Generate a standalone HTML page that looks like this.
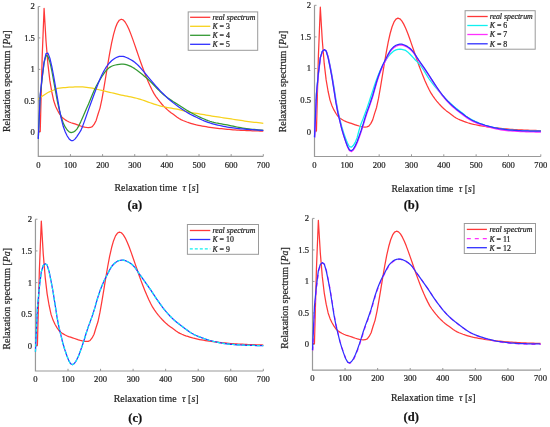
<!DOCTYPE html>
<html><head><meta charset="utf-8"><title>Relaxation spectrum</title>
<style>html,body{margin:0;padding:0;background:#fff;}svg{display:block;}text{stroke:#262626;stroke-width:0.22px;}</style></head>
<body><svg width="550" height="427" viewBox="0 0 550 427" font-family="'Liberation Serif', serif">
<rect width="550" height="427" fill="#fff"/>
<path d="M38.30 6.50 L38.30 156.30 L263.30 156.30" fill="none" stroke="#999999" stroke-width="1.2"/>
<path d="M38.30 132.20 h2" stroke="#999999" stroke-width="1"/>
<text x="34.90" y="135.10" text-anchor="end" font-size="8.6" fill="#262626">0</text>
<path d="M38.30 100.77 h2" stroke="#999999" stroke-width="1"/>
<text x="34.90" y="103.67" text-anchor="end" font-size="8.6" fill="#262626">0.5</text>
<path d="M38.30 69.35 h2" stroke="#999999" stroke-width="1"/>
<text x="34.90" y="72.25" text-anchor="end" font-size="8.6" fill="#262626">1</text>
<path d="M38.30 37.92 h2" stroke="#999999" stroke-width="1"/>
<text x="34.90" y="40.82" text-anchor="end" font-size="8.6" fill="#262626">1.5</text>
<path d="M38.30 6.50 h2" stroke="#999999" stroke-width="1"/>
<text x="34.90" y="9.40" text-anchor="end" font-size="8.6" fill="#262626">2</text>
<text x="38.30" y="167.50" text-anchor="middle" font-size="8.6" fill="#262626">0</text>
<path d="M70.44 156.30 v-2.2" stroke="#999999" stroke-width="1"/>
<text x="70.44" y="167.50" text-anchor="middle" font-size="8.6" fill="#262626">100</text>
<path d="M102.59 156.30 v-2.2" stroke="#999999" stroke-width="1"/>
<text x="102.59" y="167.50" text-anchor="middle" font-size="8.6" fill="#262626">200</text>
<path d="M134.73 156.30 v-2.2" stroke="#999999" stroke-width="1"/>
<text x="134.73" y="167.50" text-anchor="middle" font-size="8.6" fill="#262626">300</text>
<path d="M166.87 156.30 v-2.2" stroke="#999999" stroke-width="1"/>
<text x="166.87" y="167.50" text-anchor="middle" font-size="8.6" fill="#262626">400</text>
<path d="M199.01 156.30 v-2.2" stroke="#999999" stroke-width="1"/>
<text x="199.01" y="167.50" text-anchor="middle" font-size="8.6" fill="#262626">500</text>
<path d="M231.16 156.30 v-2.2" stroke="#999999" stroke-width="1"/>
<text x="231.16" y="167.50" text-anchor="middle" font-size="8.6" fill="#262626">600</text>
<path d="M263.30 156.30 v-2.2" stroke="#999999" stroke-width="1"/>
<text x="263.30" y="167.50" text-anchor="middle" font-size="8.6" fill="#262626">700</text>
<path d="M38.30 131.38 L40.23 131.38 L42.16 57.41 L44.09 8.39 L46.01 41.07 L47.94 64.32 L49.87 80.66 L51.80 91.98 L53.73 100.77 L55.66 106.43 L57.59 110.52 L59.51 113.86 L61.44 116.69 L63.37 118.52 L65.30 119.86 L67.23 121.01 L69.16 121.96 L71.09 122.77 L73.01 123.34 L74.94 123.96 L76.87 124.66 L78.80 125.35 L80.73 125.99 L82.66 126.54 L84.59 127.04 L86.51 127.41 L88.44 127.59 L90.37 127.45 L92.30 126.61 L94.23 124.16 L96.16 120.44 L98.09 113.97 L100.01 108.12 L101.94 99.08 L103.87 88.20 L105.80 76.50 L107.73 64.65 L109.66 53.34 L111.59 43.16 L113.51 34.55 L115.44 27.80 L117.37 23.03 L119.30 20.22 L121.23 19.25 L123.16 19.92 L125.09 22.00 L127.01 25.22 L128.94 29.33 L130.87 34.12 L132.80 39.35 L134.73 44.87 L136.66 50.51 L138.59 56.15 L140.51 61.69 L142.44 67.07 L144.37 72.21 L146.30 77.10 L148.23 81.69 L150.16 85.99 L152.09 89.98 L154.01 93.66 L155.94 96.56 L157.87 99.24 L159.80 101.72 L161.73 104.00 L163.66 106.11 L165.59 108.07 L167.51 109.89 L169.44 111.51 L171.37 112.95 L173.30 114.32 L175.23 115.76 L177.16 117.23 L179.09 118.56 L181.01 119.62 L182.94 120.49 L184.87 121.26 L186.80 121.99 L188.73 122.66 L190.66 123.28 L192.59 123.86 L194.51 124.40 L196.44 124.87 L198.37 125.29 L200.30 125.69 L202.23 126.05 L204.16 126.39 L206.09 126.71 L208.01 127.01 L209.94 127.29 L211.87 127.55 L213.80 127.80 L215.73 128.05 L217.66 128.28 L219.59 128.51 L221.51 128.73 L223.44 128.93 L225.37 129.12 L227.30 129.30 L229.23 129.48 L231.16 129.64 L233.09 129.79 L235.01 129.92 L236.94 130.04 L238.87 130.15 L240.80 130.26 L242.73 130.36 L244.66 130.45 L246.59 130.54 L248.51 130.62 L250.44 130.70 L252.37 130.78 L254.30 130.85 L256.23 130.92 L258.16 130.98 L260.09 131.04 L262.01 131.10 L263.30 131.13" fill="none" stroke="#ff3838" stroke-width="1.25" stroke-linejoin="round" stroke-linecap="butt"/>
<path d="M38.30 99.20 L40.23 97.56 L42.16 96.23 L44.09 94.92 L46.01 93.67 L47.94 92.54 L49.87 91.57 L51.80 90.77 L53.73 90.01 L55.66 89.17 L57.59 88.46 L59.51 88.04 L61.44 87.83 L63.37 87.70 L65.30 87.54 L67.23 87.36 L69.16 87.21 L71.09 87.13 L73.01 87.07 L74.94 86.99 L76.87 86.91 L78.80 86.84 L80.73 86.83 L82.66 86.90 L84.59 87.04 L86.51 87.26 L88.44 87.52 L90.37 87.84 L92.30 88.19 L94.23 88.59 L96.16 89.03 L98.09 89.50 L100.01 89.99 L101.94 90.47 L103.87 90.93 L105.80 91.38 L107.73 91.83 L109.66 92.29 L111.59 92.76 L113.51 93.23 L115.44 93.70 L117.37 94.16 L119.30 94.60 L121.23 95.02 L123.16 95.41 L125.09 95.79 L127.01 96.17 L128.94 96.54 L130.87 96.93 L132.80 97.34 L134.73 97.78 L136.66 98.26 L138.59 98.79 L140.51 99.37 L142.44 100.02 L144.37 100.70 L146.30 101.39 L148.23 102.08 L150.16 102.76 L152.09 103.43 L154.01 104.07 L155.94 104.69 L157.87 105.27 L159.80 105.81 L161.73 106.31 L163.66 106.76 L165.59 107.16 L167.51 107.52 L169.44 107.85 L171.37 108.18 L173.30 108.51 L175.23 108.85 L177.16 109.22 L179.09 109.63 L181.01 110.09 L182.94 110.60 L184.87 111.12 L186.80 111.62 L188.73 112.07 L190.66 112.46 L192.59 112.81 L194.51 113.12 L196.44 113.42 L198.37 113.72 L200.30 114.03 L202.23 114.34 L204.16 114.67 L206.09 115.01 L208.01 115.35 L209.94 115.69 L211.87 116.03 L213.80 116.35 L215.73 116.65 L217.66 116.94 L219.59 117.22 L221.51 117.50 L223.44 117.77 L225.37 118.05 L227.30 118.35 L229.23 118.64 L231.16 118.94 L233.09 119.25 L235.01 119.55 L236.94 119.86 L238.87 120.16 L240.80 120.45 L242.73 120.74 L244.66 121.02 L246.59 121.29 L248.51 121.55 L250.44 121.79 L252.37 122.03 L254.30 122.26 L256.23 122.49 L258.16 122.70 L260.09 122.92 L262.01 123.13 L263.30 123.28" fill="none" stroke="#f7d21c" stroke-width="1.25" stroke-linejoin="round" stroke-linecap="butt"/>
<path d="M38.30 138.48 L40.23 95.78 L42.16 78.31 L44.09 62.94 L46.01 55.37 L47.94 56.42 L49.87 61.96 L51.80 70.74 L53.73 81.45 L55.66 92.20 L57.59 102.26 L59.51 110.76 L61.44 117.81 L63.37 123.40 L65.30 127.22 L67.23 130.02 L69.16 131.92 L71.09 132.53 L73.01 132.21 L74.94 131.13 L76.87 129.06 L78.80 125.82 L80.73 121.86 L82.66 117.57 L84.59 113.09 L86.51 108.60 L88.44 104.14 L90.37 99.47 L92.30 94.71 L94.23 90.21 L96.16 86.25 L98.09 82.76 L100.01 79.56 L101.94 76.50 L103.87 73.57 L105.80 70.98 L107.73 68.90 L109.66 67.36 L111.59 66.27 L113.51 65.51 L115.44 64.99 L117.37 64.62 L119.30 64.33 L121.23 64.08 L123.16 64.13 L125.09 64.44 L127.01 64.91 L128.94 65.56 L130.87 66.42 L132.80 67.46 L134.73 68.65 L136.66 69.98 L138.59 71.42 L140.51 72.94 L142.44 74.52 L144.37 76.15 L146.30 77.80 L148.23 79.51 L150.16 81.34 L152.09 83.27 L154.01 85.26 L155.94 87.27 L157.87 89.25 L159.80 91.17 L161.73 92.98 L163.66 94.66 L165.59 96.23 L167.51 97.69 L169.44 99.07 L171.37 100.39 L173.30 101.65 L175.23 102.88 L177.16 104.09 L179.09 105.30 L181.01 106.52 L182.94 107.75 L184.87 108.98 L186.80 110.18 L188.73 111.34 L190.66 112.45 L192.59 113.52 L194.51 114.54 L196.44 115.51 L198.37 116.45 L200.30 117.36 L202.23 118.22 L204.16 119.04 L206.09 119.83 L208.01 120.56 L209.94 121.24 L211.87 121.84 L213.80 122.37 L215.73 122.82 L217.66 123.22 L219.59 123.58 L221.51 123.92 L223.44 124.26 L225.37 124.61 L227.30 124.98 L229.23 125.38 L231.16 125.78 L233.09 126.19 L235.01 126.60 L236.94 126.99 L238.87 127.37 L240.80 127.71 L242.73 128.03 L244.66 128.33 L246.59 128.60 L248.51 128.85 L250.44 129.08 L252.37 129.29 L254.30 129.49 L256.23 129.68 L258.16 129.86 L260.09 130.03 L262.01 130.20 L263.30 130.31" fill="none" stroke="#339933" stroke-width="1.25" stroke-linejoin="round" stroke-linecap="butt"/>
<path d="M38.30 138.99 L40.23 94.66 L42.16 77.10 L44.09 61.84 L46.01 53.70 L47.94 53.12 L49.87 58.15 L51.80 66.38 L53.73 76.50 L55.66 87.56 L57.59 98.79 L59.51 109.76 L61.44 119.43 L63.37 126.84 L65.30 132.00 L67.23 135.98 L69.16 138.91 L71.09 140.57 L73.01 140.63 L74.94 139.13 L76.87 136.55 L78.80 133.72 L80.73 130.69 L82.66 126.15 L84.59 120.86 L86.51 115.37 L88.44 109.86 L90.37 104.47 L92.30 99.18 L94.23 93.97 L96.16 88.81 L98.09 83.76 L100.01 78.98 L101.94 74.69 L103.87 70.95 L105.80 67.73 L107.73 65.00 L109.66 62.70 L111.59 60.80 L113.51 59.22 L115.44 57.96 L117.37 57.04 L119.30 56.46 L121.23 56.26 L123.16 56.43 L125.09 56.96 L127.01 57.76 L128.94 58.68 L130.87 59.70 L132.80 60.87 L134.73 62.25 L136.66 63.90 L138.59 65.79 L140.51 67.88 L142.44 70.10 L144.37 72.41 L146.30 74.73 L148.23 77.06 L150.16 79.36 L152.09 81.64 L154.01 83.89 L155.94 86.09 L157.87 88.23 L159.80 90.32 L161.73 92.33 L163.66 94.28 L165.59 96.15 L167.51 97.95 L169.44 99.67 L171.37 101.31 L173.30 102.88 L175.23 104.37 L177.16 105.80 L179.09 107.18 L181.01 108.53 L182.94 109.84 L184.87 111.09 L186.80 112.28 L188.73 113.40 L190.66 114.43 L192.59 115.41 L194.51 116.35 L196.44 117.28 L198.37 118.21 L200.30 119.13 L202.23 120.03 L204.16 120.86 L206.09 121.63 L208.01 122.32 L209.94 122.96 L211.87 123.54 L213.80 124.08 L215.73 124.59 L217.66 125.07 L219.59 125.51 L221.51 125.93 L223.44 126.32 L225.37 126.68 L227.30 127.01 L229.23 127.32 L231.16 127.61 L233.09 127.87 L235.01 128.12 L236.94 128.35 L238.87 128.56 L240.80 128.76 L242.73 128.94 L244.66 129.11 L246.59 129.28 L248.51 129.43 L250.44 129.58 L252.37 129.72 L254.30 129.86 L256.23 129.99 L258.16 130.11 L260.09 130.24 L262.01 130.36 L263.30 130.44" fill="none" stroke="#3030ff" stroke-width="1.25" stroke-linejoin="round" stroke-linecap="butt"/>
<text transform="translate(9.60,81.25) rotate(-90)" text-anchor="middle" font-size="9.9" fill="#262626">Relaxation spectrum [<tspan font-style="italic">Pa</tspan>]</text>
<text x="114.50" y="190.70" font-size="10.15" fill="#262626" textLength="84.40" lengthAdjust="spacingAndGlyphs">Relaxation time <tspan dx="3" font-style="italic">τ</tspan> [<tspan font-style="italic">s</tspan>]</text>
<text x="134.90" y="208.80" text-anchor="middle" font-size="12.5" font-weight="bold" fill="#111">(a)</text>
<rect x="188.20" y="11.90" width="69.50" height="38.40" fill="#fff" stroke="#9a9a9a" stroke-width="1"/>
<path d="M190.10 17.30 H210.30" stroke="#ff3838" stroke-width="1.3"/>
<text x="212.40" y="20.20" font-size="7.85" font-style="italic" fill="#222">real spectrum</text>
<path d="M190.10 26.30 H210.30" stroke="#f7d21c" stroke-width="1.3"/>
<text x="212.40" y="29.20" font-size="7.85" fill="#222"><tspan font-style="italic">K</tspan> = 3</text>
<path d="M190.10 35.30 H210.30" stroke="#339933" stroke-width="1.3"/>
<text x="212.40" y="38.20" font-size="7.85" fill="#222"><tspan font-style="italic">K</tspan> = 4</text>
<path d="M190.10 44.30 H210.30" stroke="#3030ff" stroke-width="1.3"/>
<text x="212.40" y="47.20" font-size="7.85" fill="#222"><tspan font-style="italic">K</tspan> = 5</text>
<path d="M314.50 5.30 L314.50 156.50 L540.80 156.50" fill="none" stroke="#999999" stroke-width="1.2"/>
<path d="M314.50 131.70 h2" stroke="#999999" stroke-width="1"/>
<text x="311.10" y="134.60" text-anchor="end" font-size="8.6" fill="#262626">0</text>
<path d="M314.50 100.10 h2" stroke="#999999" stroke-width="1"/>
<text x="311.10" y="103.00" text-anchor="end" font-size="8.6" fill="#262626">0.5</text>
<path d="M314.50 68.50 h2" stroke="#999999" stroke-width="1"/>
<text x="311.10" y="71.40" text-anchor="end" font-size="8.6" fill="#262626">1</text>
<path d="M314.50 36.90 h2" stroke="#999999" stroke-width="1"/>
<text x="311.10" y="39.80" text-anchor="end" font-size="8.6" fill="#262626">1.5</text>
<path d="M314.50 5.30 h2" stroke="#999999" stroke-width="1"/>
<text x="311.10" y="8.20" text-anchor="end" font-size="8.6" fill="#262626">2</text>
<text x="314.50" y="167.70" text-anchor="middle" font-size="8.6" fill="#262626">0</text>
<path d="M346.83 156.50 v-2.2" stroke="#999999" stroke-width="1"/>
<text x="346.83" y="167.70" text-anchor="middle" font-size="8.6" fill="#262626">100</text>
<path d="M379.16 156.50 v-2.2" stroke="#999999" stroke-width="1"/>
<text x="379.16" y="167.70" text-anchor="middle" font-size="8.6" fill="#262626">200</text>
<path d="M411.49 156.50 v-2.2" stroke="#999999" stroke-width="1"/>
<text x="411.49" y="167.70" text-anchor="middle" font-size="8.6" fill="#262626">300</text>
<path d="M443.81 156.50 v-2.2" stroke="#999999" stroke-width="1"/>
<text x="443.81" y="167.70" text-anchor="middle" font-size="8.6" fill="#262626">400</text>
<path d="M476.14 156.50 v-2.2" stroke="#999999" stroke-width="1"/>
<text x="476.14" y="167.70" text-anchor="middle" font-size="8.6" fill="#262626">500</text>
<path d="M508.47 156.50 v-2.2" stroke="#999999" stroke-width="1"/>
<text x="508.47" y="167.70" text-anchor="middle" font-size="8.6" fill="#262626">600</text>
<path d="M540.80 156.50 v-2.2" stroke="#999999" stroke-width="1"/>
<text x="540.80" y="167.70" text-anchor="middle" font-size="8.6" fill="#262626">700</text>
<path d="M314.50 130.88 L316.44 130.88 L318.38 56.49 L320.32 7.20 L322.26 40.06 L324.20 63.44 L326.14 79.88 L328.08 91.25 L330.02 100.10 L331.96 105.79 L333.90 109.90 L335.84 113.26 L337.78 116.10 L339.72 117.95 L341.66 119.29 L343.60 120.45 L345.54 121.40 L347.48 122.22 L349.41 122.79 L351.35 123.42 L353.29 124.12 L355.23 124.81 L357.17 125.46 L359.11 126.01 L361.05 126.51 L362.99 126.88 L364.93 127.07 L366.87 126.93 L368.81 126.08 L370.75 123.61 L372.69 119.87 L374.63 113.37 L376.57 107.49 L378.51 98.40 L380.45 87.46 L382.39 75.69 L384.33 63.77 L386.27 52.40 L388.21 42.16 L390.15 33.51 L392.09 26.72 L394.03 21.92 L395.97 19.10 L397.91 18.12 L399.85 18.80 L401.79 20.88 L403.73 24.12 L405.67 28.26 L407.61 33.07 L409.55 38.34 L411.49 43.88 L413.43 49.55 L415.37 55.22 L417.30 60.80 L419.24 66.20 L421.18 71.38 L423.12 76.29 L425.06 80.91 L427.00 85.23 L428.94 89.24 L430.88 92.95 L432.82 95.87 L434.76 98.56 L436.70 101.05 L438.64 103.34 L440.58 105.47 L442.52 107.44 L444.46 109.26 L446.40 110.89 L448.34 112.34 L450.28 113.72 L452.22 115.17 L454.16 116.64 L456.10 117.99 L458.04 119.05 L459.98 119.93 L461.92 120.70 L463.86 121.43 L465.80 122.10 L467.74 122.73 L469.68 123.31 L471.62 123.86 L473.56 124.33 L475.50 124.75 L477.44 125.15 L479.38 125.52 L481.32 125.86 L483.26 126.18 L485.19 126.48 L487.13 126.76 L489.07 127.02 L491.01 127.28 L492.95 127.52 L494.89 127.76 L496.83 127.99 L498.77 128.21 L500.71 128.41 L502.65 128.60 L504.59 128.79 L506.53 128.96 L508.47 129.12 L510.41 129.27 L512.35 129.40 L514.29 129.53 L516.23 129.64 L518.17 129.75 L520.11 129.85 L522.05 129.94 L523.99 130.03 L525.93 130.11 L527.87 130.19 L529.81 130.27 L531.75 130.34 L533.69 130.41 L535.63 130.48 L537.57 130.54 L539.51 130.59 L540.80 130.63" fill="none" stroke="#ff3838" stroke-width="1.25" stroke-linejoin="round" stroke-linecap="butt"/>
<path d="M314.50 137.39 L316.44 93.78 L318.38 73.12 L320.32 57.62 L322.26 51.46 L324.20 49.59 L326.14 50.96 L328.08 56.51 L330.02 65.22 L331.96 75.08 L333.90 86.64 L335.84 99.20 L337.78 110.27 L339.72 118.65 L341.66 126.13 L343.60 132.59 L345.54 138.21 L347.48 143.08 L349.41 146.72 L351.35 147.22 L353.29 145.60 L355.23 142.37 L357.17 137.40 L359.11 130.02 L361.05 123.76 L362.99 119.06 L364.93 113.84 L366.87 108.36 L368.81 102.67 L370.75 96.79 L372.69 90.82 L374.63 84.89 L376.57 79.39 L378.51 74.46 L380.45 69.99 L382.39 65.97 L384.33 62.38 L386.27 59.32 L388.21 56.61 L390.15 54.30 L392.09 52.43 L394.03 50.85 L395.97 49.94 L397.91 49.36 L399.85 49.24 L401.79 49.44 L403.73 49.84 L405.67 50.43 L407.61 51.89 L409.55 53.79 L411.49 55.72 L413.43 57.89 L415.37 59.98 L417.30 61.83 L419.24 63.77 L421.18 66.26 L423.12 69.28 L425.06 72.38 L427.00 75.63 L428.94 78.74 L430.88 81.45 L432.82 83.95 L434.76 86.35 L436.70 88.64 L438.64 90.87 L440.58 93.18 L442.52 95.49 L444.46 97.62 L446.40 99.59 L448.34 101.46 L450.28 103.26 L452.22 105.01 L454.16 106.70 L456.10 108.32 L458.04 109.83 L459.98 111.27 L461.92 112.74 L463.86 114.32 L465.80 115.90 L467.74 117.28 L469.68 118.53 L471.62 119.65 L473.56 120.64 L475.50 121.56 L477.44 122.41 L479.38 123.21 L481.32 123.95 L483.26 124.64 L485.19 125.28 L487.13 125.86 L489.07 126.40 L491.01 126.89 L492.95 127.36 L494.89 127.81 L496.83 128.22 L498.77 128.59 L500.71 128.90 L502.65 129.19 L504.59 129.45 L506.53 129.69 L508.47 129.90 L510.41 130.08 L512.35 130.23 L514.29 130.37 L516.23 130.49 L518.17 130.60 L520.11 130.70 L522.05 130.79 L523.99 130.86 L525.93 130.92 L527.87 130.97 L529.81 131.02 L531.75 131.07 L533.69 131.11 L535.63 131.15 L537.57 131.18 L539.51 131.19 L540.80 131.19" fill="none" stroke="#10f0f0" stroke-width="1.25" stroke-linejoin="round" stroke-linecap="butt"/>
<path d="M314.65 137.39 L316.59 93.78 L318.53 73.12 L320.47 57.61 L322.41 51.46 L324.35 49.58 L326.29 51.00 L328.23 57.51 L330.17 67.00 L332.11 77.38 L334.05 89.60 L335.99 102.23 L337.93 112.57 L339.87 120.77 L341.81 128.95 L343.75 135.69 L345.69 141.65 L347.63 147.06 L349.56 150.68 L351.50 151.60 L353.44 149.93 L355.38 146.70 L357.32 142.40 L359.26 137.16 L361.20 131.53 L363.14 125.46 L365.08 118.98 L367.02 112.98 L368.96 107.68 L370.90 102.14 L372.84 96.23 L374.78 89.29 L376.72 82.55 L378.66 76.51 L380.60 71.27 L382.54 66.65 L384.48 62.67 L386.42 58.90 L388.36 54.94 L390.30 51.52 L392.24 49.19 L394.18 47.35 L396.12 46.09 L398.06 45.37 L400.00 44.92 L401.94 44.98 L403.88 45.56 L405.82 46.46 L407.76 47.48 L409.70 48.87 L411.64 50.66 L413.58 52.80 L415.52 55.66 L417.45 58.75 L419.39 61.59 L421.33 64.37 L423.27 67.17 L425.21 70.01 L427.15 72.88 L429.09 75.82 L431.03 78.87 L432.97 81.96 L434.91 84.95 L436.85 87.84 L438.79 90.63 L440.73 93.33 L442.67 95.92 L444.61 98.30 L446.55 100.54 L448.49 102.64 L450.43 104.59 L452.37 106.41 L454.31 108.10 L456.25 109.71 L458.19 111.25 L460.13 112.72 L462.07 114.16 L464.01 115.64 L465.95 117.08 L467.89 118.40 L469.83 119.65 L471.77 120.79 L473.71 121.76 L475.65 122.62 L477.59 123.40 L479.53 124.13 L481.47 124.81 L483.41 125.46 L485.34 126.09 L487.28 126.68 L489.22 127.22 L491.16 127.71 L493.10 128.18 L495.04 128.63 L496.98 129.04 L498.92 129.41 L500.86 129.73 L502.80 130.01 L504.74 130.27 L506.68 130.51 L508.62 130.72 L510.56 130.90 L512.50 131.05 L514.44 131.19 L516.38 131.31 L518.32 131.43 L520.26 131.52 L522.20 131.61 L524.14 131.68 L526.08 131.74 L528.02 131.79 L529.96 131.85 L531.90 131.89 L533.84 131.94 L535.78 131.97 L537.72 132.00 L539.66 132.01 L540.95 132.02" fill="none" stroke="#ff30ff" stroke-width="1.35" stroke-linejoin="round" stroke-linecap="butt"/>
<path d="M314.50 137.39 L316.44 93.78 L318.38 73.12 L320.32 57.61 L322.26 51.46 L324.20 49.58 L326.14 51.00 L328.08 57.51 L330.02 67.00 L331.96 77.38 L333.90 89.59 L335.84 102.20 L337.78 112.49 L339.72 120.57 L341.66 128.58 L343.60 135.11 L345.54 140.95 L347.48 146.28 L349.41 149.88 L351.35 150.78 L353.29 149.11 L355.23 145.88 L357.17 141.58 L359.11 136.33 L361.05 130.71 L362.99 124.64 L364.93 118.16 L366.87 112.16 L368.81 106.86 L370.75 101.32 L372.69 95.41 L374.63 88.47 L376.57 81.73 L378.51 75.69 L380.45 70.44 L382.39 65.83 L384.33 61.85 L386.27 58.08 L388.21 54.12 L390.15 50.70 L392.09 48.37 L394.03 46.52 L395.97 45.27 L397.91 44.55 L399.85 44.09 L401.79 44.16 L403.73 44.74 L405.67 45.64 L407.61 46.66 L409.55 48.05 L411.49 49.83 L413.43 51.98 L415.37 54.84 L417.30 57.93 L419.24 60.77 L421.18 63.55 L423.12 66.34 L425.06 69.19 L427.00 72.06 L428.94 75.00 L430.88 78.05 L432.82 81.14 L434.76 84.13 L436.70 87.02 L438.64 89.81 L440.58 92.51 L442.52 95.09 L444.46 97.48 L446.40 99.72 L448.34 101.81 L450.28 103.77 L452.22 105.58 L454.16 107.27 L456.10 108.89 L458.04 110.42 L459.98 111.89 L461.92 113.34 L463.86 114.81 L465.80 116.26 L467.74 117.58 L469.68 118.82 L471.62 119.97 L473.56 120.94 L475.50 121.80 L477.44 122.58 L479.38 123.31 L481.32 123.99 L483.26 124.64 L485.19 125.27 L487.13 125.85 L489.07 126.39 L491.01 126.89 L492.95 127.36 L494.89 127.81 L496.83 128.22 L498.77 128.59 L500.71 128.90 L502.65 129.19 L504.59 129.45 L506.53 129.69 L508.47 129.90 L510.41 130.08 L512.35 130.23 L514.29 130.37 L516.23 130.49 L518.17 130.60 L520.11 130.70 L522.05 130.79 L523.99 130.86 L525.93 130.92 L527.87 130.97 L529.81 131.02 L531.75 131.07 L533.69 131.11 L535.63 131.15 L537.57 131.18 L539.51 131.19 L540.80 131.19" fill="none" stroke="#3030ff" stroke-width="1.25" stroke-linejoin="round" stroke-linecap="butt"/>
<text transform="translate(286.20,81.50) rotate(-90)" text-anchor="middle" font-size="9.9" fill="#262626">Relaxation spectrum [<tspan font-style="italic">Pa</tspan>]</text>
<text x="391.40" y="191.70" font-size="10.15" fill="#262626" textLength="83.60" lengthAdjust="spacingAndGlyphs">Relaxation time <tspan dx="3" font-style="italic">τ</tspan> [<tspan font-style="italic">s</tspan>]</text>
<text x="411.30" y="208.90" text-anchor="middle" font-size="12.5" font-weight="bold" fill="#111">(b)</text>
<rect x="465.10" y="10.70" width="70.10" height="38.50" fill="#fff" stroke="#9a9a9a" stroke-width="1"/>
<path d="M467.30 16.50 H487.70" stroke="#ff3838" stroke-width="1.3"/>
<text x="489.70" y="19.40" font-size="7.85" font-style="italic" fill="#222">real spectrum</text>
<path d="M467.30 25.50 H487.70" stroke="#10f0f0" stroke-width="1.3"/>
<text x="489.70" y="28.40" font-size="7.85" fill="#222"><tspan font-style="italic">K</tspan> = 6</text>
<path d="M467.30 34.50 H487.70" stroke="#ff30ff" stroke-width="1.3"/>
<text x="489.70" y="37.40" font-size="7.85" fill="#222"><tspan font-style="italic">K</tspan> = 7</text>
<path d="M467.30 43.80 H487.70" stroke="#3030ff" stroke-width="1.3"/>
<text x="489.70" y="46.70" font-size="7.85" fill="#222"><tspan font-style="italic">K</tspan> = 8</text>
<path d="M35.45 219.20 L35.45 371.00 L263.30 371.00" fill="none" stroke="#999999" stroke-width="1.2"/>
<path d="M35.45 346.10 h2" stroke="#999999" stroke-width="1"/>
<text x="32.05" y="349.00" text-anchor="end" font-size="8.6" fill="#262626">0</text>
<path d="M35.45 314.38 h2" stroke="#999999" stroke-width="1"/>
<text x="32.05" y="317.27" text-anchor="end" font-size="8.6" fill="#262626">0.5</text>
<path d="M35.45 282.65 h2" stroke="#999999" stroke-width="1"/>
<text x="32.05" y="285.55" text-anchor="end" font-size="8.6" fill="#262626">1</text>
<path d="M35.45 250.93 h2" stroke="#999999" stroke-width="1"/>
<text x="32.05" y="253.83" text-anchor="end" font-size="8.6" fill="#262626">1.5</text>
<path d="M35.45 219.20 h2" stroke="#999999" stroke-width="1"/>
<text x="32.05" y="222.10" text-anchor="end" font-size="8.6" fill="#262626">2</text>
<text x="35.45" y="382.20" text-anchor="middle" font-size="8.6" fill="#262626">0</text>
<path d="M68.00 371.00 v-2.2" stroke="#999999" stroke-width="1"/>
<text x="68.00" y="382.20" text-anchor="middle" font-size="8.6" fill="#262626">100</text>
<path d="M100.55 371.00 v-2.2" stroke="#999999" stroke-width="1"/>
<text x="100.55" y="382.20" text-anchor="middle" font-size="8.6" fill="#262626">200</text>
<path d="M133.10 371.00 v-2.2" stroke="#999999" stroke-width="1"/>
<text x="133.10" y="382.20" text-anchor="middle" font-size="8.6" fill="#262626">300</text>
<path d="M165.65 371.00 v-2.2" stroke="#999999" stroke-width="1"/>
<text x="165.65" y="382.20" text-anchor="middle" font-size="8.6" fill="#262626">400</text>
<path d="M198.20 371.00 v-2.2" stroke="#999999" stroke-width="1"/>
<text x="198.20" y="382.20" text-anchor="middle" font-size="8.6" fill="#262626">500</text>
<path d="M230.75 371.00 v-2.2" stroke="#999999" stroke-width="1"/>
<text x="230.75" y="382.20" text-anchor="middle" font-size="8.6" fill="#262626">600</text>
<path d="M263.30 371.00 v-2.2" stroke="#999999" stroke-width="1"/>
<text x="263.30" y="382.20" text-anchor="middle" font-size="8.6" fill="#262626">700</text>
<path d="M35.45 345.28 L37.40 345.28 L39.36 270.59 L41.31 221.10 L43.26 254.10 L45.22 277.57 L47.17 294.07 L49.12 305.49 L51.07 314.38 L53.03 320.09 L54.98 324.21 L56.93 327.58 L58.89 330.44 L60.84 332.29 L62.79 333.64 L64.75 334.81 L66.70 335.76 L68.65 336.58 L70.60 337.15 L72.56 337.79 L74.51 338.49 L76.46 339.19 L78.42 339.83 L80.37 340.39 L82.32 340.89 L84.28 341.26 L86.23 341.45 L88.18 341.31 L90.13 340.46 L92.09 337.98 L94.04 334.23 L95.99 327.70 L97.95 321.79 L99.90 312.66 L101.85 301.68 L103.81 289.87 L105.76 277.91 L107.71 266.49 L109.66 256.21 L111.62 247.52 L113.57 240.70 L115.52 235.89 L117.48 233.05 L119.43 232.07 L121.38 232.75 L123.34 234.84 L125.29 238.09 L127.24 242.25 L129.19 247.08 L131.15 252.37 L133.10 257.93 L135.05 263.63 L137.01 269.32 L138.96 274.92 L140.91 280.34 L142.87 285.54 L144.82 290.47 L146.77 295.11 L148.72 299.45 L150.68 303.47 L152.63 307.19 L154.58 310.12 L156.54 312.83 L158.49 315.33 L160.44 317.63 L162.40 319.77 L164.35 321.74 L166.30 323.58 L168.25 325.21 L170.21 326.66 L172.16 328.05 L174.11 329.50 L176.07 330.98 L178.02 332.33 L179.97 333.40 L181.93 334.28 L183.88 335.06 L185.83 335.79 L187.78 336.46 L189.74 337.09 L191.69 337.68 L193.64 338.23 L195.60 338.70 L197.55 339.13 L199.50 339.52 L201.45 339.89 L203.41 340.23 L205.36 340.56 L207.31 340.86 L209.27 341.14 L211.22 341.40 L213.17 341.66 L215.13 341.91 L217.08 342.15 L219.03 342.38 L220.99 342.59 L222.94 342.80 L224.89 342.99 L226.84 343.18 L228.80 343.35 L230.75 343.51 L232.70 343.66 L234.66 343.80 L236.61 343.92 L238.56 344.03 L240.52 344.14 L242.47 344.24 L244.42 344.33 L246.37 344.42 L248.33 344.51 L250.28 344.59 L252.23 344.66 L254.19 344.74 L256.14 344.81 L258.09 344.87 L260.05 344.93 L262.00 344.99 L263.30 345.02" fill="none" stroke="#ff3838" stroke-width="1.25" stroke-linejoin="round" stroke-linecap="butt"/>
<path d="M35.45 351.81 L37.40 308.03 L39.36 287.29 L41.31 271.72 L43.26 265.55 L45.22 263.66 L47.17 265.09 L49.12 271.63 L51.07 281.16 L53.03 291.58 L54.98 303.84 L56.93 316.51 L58.89 326.85 L60.84 334.97 L62.79 343.01 L64.75 349.53 L66.70 355.27 L68.65 360.40 L70.60 363.79 L72.56 364.68 L74.51 363.23 L76.46 360.30 L78.42 356.21 L80.37 351.08 L82.32 345.51 L84.28 339.48 L86.23 333.05 L88.18 327.11 L90.13 321.88 L92.09 316.41 L94.04 310.57 L95.99 303.70 L97.95 297.04 L99.90 291.08 L101.85 285.91 L103.81 281.38 L105.76 277.48 L107.71 273.78 L109.66 269.89 L111.62 266.53 L113.57 264.25 L115.52 262.44 L117.48 261.21 L119.43 260.50 L121.38 260.05 L123.34 260.10 L125.29 260.66 L127.24 261.52 L129.19 262.49 L131.15 263.82 L133.10 265.53 L135.05 267.60 L137.01 270.38 L138.96 273.38 L140.91 276.13 L142.87 278.82 L144.82 281.52 L146.77 284.28 L148.72 287.07 L150.68 289.92 L152.63 292.90 L154.58 295.92 L156.54 298.84 L158.49 301.67 L160.44 304.41 L162.40 307.06 L164.35 309.61 L166.30 311.96 L168.25 314.17 L170.21 316.24 L172.16 318.18 L174.11 319.98 L176.07 321.66 L178.02 323.26 L179.97 324.79 L181.93 326.25 L183.88 327.70 L185.83 329.17 L187.78 330.61 L189.74 331.93 L191.69 333.18 L193.64 334.33 L195.60 335.30 L197.55 336.16 L199.50 336.95 L201.45 337.68 L203.41 338.36 L205.36 339.01 L207.31 339.64 L209.27 340.23 L211.22 340.77 L213.17 341.27 L215.13 341.74 L217.08 342.19 L219.03 342.61 L220.99 342.98 L222.94 343.29 L224.89 343.58 L226.84 343.84 L228.80 344.08 L230.75 344.29 L232.70 344.47 L234.66 344.62 L236.61 344.76 L238.56 344.89 L240.52 345.00 L242.47 345.10 L244.42 345.18 L246.37 345.26 L248.33 345.31 L250.28 345.37 L252.23 345.42 L254.19 345.47 L256.14 345.51 L258.09 345.55 L260.05 345.57 L262.00 345.59 L263.30 345.59" fill="none" stroke="#3030ff" stroke-width="1.25" stroke-linejoin="round" stroke-linecap="butt"/>
<path d="M35.45 351.81 L37.40 308.03 L39.36 287.29 L41.31 271.72 L43.26 265.55 L45.22 263.66 L47.17 265.09 L49.12 271.63 L51.07 281.16 L53.03 291.58 L54.98 303.84 L56.93 316.51 L58.89 326.85 L60.84 334.97 L62.79 343.01 L64.75 349.53 L66.70 355.27 L68.65 360.40 L70.60 363.79 L72.56 364.68 L74.51 363.23 L76.46 360.30 L78.42 356.21 L80.37 351.08 L82.32 345.51 L84.28 339.48 L86.23 333.05 L88.18 327.11 L90.13 321.88 L92.09 316.41 L94.04 310.57 L95.99 303.70 L97.95 297.04 L99.90 291.08 L101.85 285.91 L103.81 281.38 L105.76 277.48 L107.71 273.78 L109.66 269.89 L111.62 266.53 L113.57 264.25 L115.52 262.44 L117.48 261.21 L119.43 260.50 L121.38 260.05 L123.34 260.10 L125.29 260.66 L127.24 261.52 L129.19 262.49 L131.15 263.82 L133.10 265.53 L135.05 267.60 L137.01 270.38 L138.96 273.38 L140.91 276.13 L142.87 278.82 L144.82 281.52 L146.77 284.28 L148.72 287.07 L150.68 289.92 L152.63 292.90 L154.58 295.92 L156.54 298.84 L158.49 301.67 L160.44 304.41 L162.40 307.06 L164.35 309.61 L166.30 311.96 L168.25 314.17 L170.21 316.24 L172.16 318.18 L174.11 319.98 L176.07 321.66 L178.02 323.26 L179.97 324.79 L181.93 326.25 L183.88 327.70 L185.83 329.17 L187.78 330.61 L189.74 331.93 L191.69 333.18 L193.64 334.33 L195.60 335.30 L197.55 336.16 L199.50 336.95 L201.45 337.68 L203.41 338.36 L205.36 339.01 L207.31 339.64 L209.27 340.23 L211.22 340.77 L213.17 341.27 L215.13 341.74 L217.08 342.19 L219.03 342.61 L220.99 342.98 L222.94 343.29 L224.89 343.58 L226.84 343.84 L228.80 344.08 L230.75 344.29 L232.70 344.47 L234.66 344.62 L236.61 344.76 L238.56 344.89 L240.52 345.00 L242.47 345.10 L244.42 345.18 L246.37 345.26 L248.33 345.31 L250.28 345.37 L252.23 345.42 L254.19 345.47 L256.14 345.51 L258.09 345.55 L260.05 345.57 L262.00 345.59 L263.30 345.59" fill="none" stroke="#10f0f0" stroke-width="1.25" stroke-linejoin="round" stroke-linecap="butt" stroke-dasharray="3 2"/>
<text transform="translate(10.10,298.75) rotate(-90)" text-anchor="middle" font-size="9.9" fill="#262626">Relaxation spectrum [<tspan font-style="italic">Pa</tspan>]</text>
<text x="113.70" y="402.30" font-size="10.15" fill="#262626" textLength="84.90" lengthAdjust="spacingAndGlyphs">Relaxation time <tspan dx="3" font-style="italic">τ</tspan> [<tspan font-style="italic">s</tspan>]</text>
<text x="135.30" y="421.80" text-anchor="middle" font-size="12.5" font-weight="bold" fill="#111">(c)</text>
<rect x="187.40" y="224.50" width="71.10" height="29.80" fill="#fff" stroke="#9a9a9a" stroke-width="1"/>
<path d="M189.80 230.50 H210.30" stroke="#ff3838" stroke-width="1.3"/>
<text x="212.40" y="233.40" font-size="7.85" font-style="italic" fill="#222">real spectrum</text>
<path d="M189.80 239.50 H210.30" stroke="#3030ff" stroke-width="1.3"/>
<text x="212.40" y="242.40" font-size="7.85" fill="#222"><tspan font-style="italic">K</tspan> = 10</text>
<path d="M189.80 248.90 H210.30" stroke="#10f0f0" stroke-width="1.3" stroke-dasharray="3 2"/>
<text x="212.40" y="251.80" font-size="7.85" fill="#222"><tspan font-style="italic">K</tspan> = 9</text>
<path d="M312.50 218.40 L312.50 370.20 L540.50 370.20" fill="none" stroke="#999999" stroke-width="1.2"/>
<path d="M312.50 344.50 h2" stroke="#999999" stroke-width="1"/>
<text x="309.10" y="347.40" text-anchor="end" font-size="8.6" fill="#262626">0</text>
<path d="M312.50 312.98 h2" stroke="#999999" stroke-width="1"/>
<text x="309.10" y="315.88" text-anchor="end" font-size="8.6" fill="#262626">0.5</text>
<path d="M312.50 281.45 h2" stroke="#999999" stroke-width="1"/>
<text x="309.10" y="284.35" text-anchor="end" font-size="8.6" fill="#262626">1</text>
<path d="M312.50 249.93 h2" stroke="#999999" stroke-width="1"/>
<text x="309.10" y="252.83" text-anchor="end" font-size="8.6" fill="#262626">1.5</text>
<path d="M312.50 218.40 h2" stroke="#999999" stroke-width="1"/>
<text x="309.10" y="221.30" text-anchor="end" font-size="8.6" fill="#262626">2</text>
<text x="312.50" y="381.40" text-anchor="middle" font-size="8.6" fill="#262626">0</text>
<path d="M345.07 370.20 v-2.2" stroke="#999999" stroke-width="1"/>
<text x="345.07" y="381.40" text-anchor="middle" font-size="8.6" fill="#262626">100</text>
<path d="M377.64 370.20 v-2.2" stroke="#999999" stroke-width="1"/>
<text x="377.64" y="381.40" text-anchor="middle" font-size="8.6" fill="#262626">200</text>
<path d="M410.21 370.20 v-2.2" stroke="#999999" stroke-width="1"/>
<text x="410.21" y="381.40" text-anchor="middle" font-size="8.6" fill="#262626">300</text>
<path d="M442.79 370.20 v-2.2" stroke="#999999" stroke-width="1"/>
<text x="442.79" y="381.40" text-anchor="middle" font-size="8.6" fill="#262626">400</text>
<path d="M475.36 370.20 v-2.2" stroke="#999999" stroke-width="1"/>
<text x="475.36" y="381.40" text-anchor="middle" font-size="8.6" fill="#262626">500</text>
<path d="M507.93 370.20 v-2.2" stroke="#999999" stroke-width="1"/>
<text x="507.93" y="381.40" text-anchor="middle" font-size="8.6" fill="#262626">600</text>
<path d="M540.50 370.20 v-2.2" stroke="#999999" stroke-width="1"/>
<text x="540.50" y="381.40" text-anchor="middle" font-size="8.6" fill="#262626">700</text>
<path d="M312.50 343.68 L314.45 343.68 L316.41 269.47 L318.36 220.29 L320.32 253.08 L322.27 276.41 L324.23 292.80 L326.18 304.15 L328.13 312.98 L330.09 318.65 L332.04 322.75 L334.00 326.10 L335.95 328.94 L337.91 330.78 L339.86 332.12 L341.81 333.28 L343.77 334.22 L345.72 335.04 L347.68 335.61 L349.63 336.24 L351.59 336.93 L353.54 337.63 L355.49 338.27 L357.45 338.83 L359.40 339.32 L361.36 339.69 L363.31 339.88 L365.27 339.74 L367.22 338.89 L369.17 336.43 L371.13 332.70 L373.08 326.22 L375.04 320.34 L376.99 311.27 L378.95 300.36 L380.90 288.62 L382.85 276.74 L384.81 265.39 L386.76 255.18 L388.72 246.54 L390.67 239.77 L392.63 234.98 L394.58 232.16 L396.53 231.19 L398.49 231.86 L400.44 233.94 L402.40 237.18 L404.35 241.31 L406.31 246.10 L408.26 251.36 L410.21 256.89 L412.17 262.55 L414.12 268.20 L416.08 273.77 L418.03 279.16 L419.99 284.32 L421.94 289.22 L423.89 293.83 L425.85 298.14 L427.80 302.14 L429.76 305.84 L431.71 308.75 L433.67 311.44 L435.62 313.92 L437.57 316.21 L439.53 318.33 L441.48 320.29 L443.44 322.12 L445.39 323.74 L447.35 325.18 L449.30 326.57 L451.25 328.01 L453.21 329.48 L455.16 330.82 L457.12 331.88 L459.07 332.75 L461.03 333.53 L462.98 334.26 L464.93 334.93 L466.89 335.55 L468.84 336.13 L470.80 336.68 L472.75 337.15 L474.71 337.57 L476.66 337.96 L478.61 338.33 L480.57 338.67 L482.52 338.99 L484.48 339.29 L486.43 339.57 L488.39 339.83 L490.34 340.09 L492.29 340.33 L494.25 340.57 L496.20 340.80 L498.16 341.02 L500.11 341.22 L502.07 341.41 L504.02 341.59 L505.97 341.77 L507.93 341.93 L509.88 342.08 L511.84 342.21 L513.79 342.33 L515.75 342.45 L517.70 342.55 L519.65 342.65 L521.61 342.75 L523.56 342.83 L525.52 342.92 L527.47 343.00 L529.43 343.07 L531.38 343.15 L533.33 343.21 L535.29 343.28 L537.24 343.34 L539.20 343.39 L540.50 343.43" fill="none" stroke="#ff3838" stroke-width="1.25" stroke-linejoin="round" stroke-linecap="butt"/>
<path d="M312.80 350.57 L314.75 307.07 L316.71 286.46 L318.66 270.99 L320.62 264.85 L322.57 262.98 L324.53 264.40 L326.48 270.90 L328.43 280.37 L330.39 290.72 L332.34 302.91 L334.30 315.49 L336.25 325.77 L338.21 333.84 L340.16 341.83 L342.11 348.31 L344.07 354.01 L346.02 359.10 L347.98 362.48 L349.93 363.36 L351.89 361.92 L353.84 359.01 L355.79 354.95 L357.75 349.84 L359.70 344.31 L361.66 338.33 L363.61 331.93 L365.57 326.03 L367.52 320.83 L369.47 315.40 L371.43 309.59 L373.38 302.77 L375.34 296.15 L377.29 290.23 L379.25 285.09 L381.20 280.59 L383.15 276.72 L385.11 273.04 L387.06 269.17 L389.02 265.83 L390.97 263.56 L392.93 261.77 L394.88 260.54 L396.83 259.84 L398.79 259.39 L400.74 259.44 L402.70 260.00 L404.65 260.85 L406.61 261.82 L408.56 263.14 L410.51 264.84 L412.47 266.90 L414.42 269.65 L416.38 272.64 L418.33 275.37 L420.29 278.04 L422.24 280.73 L424.19 283.47 L426.15 286.24 L428.10 289.07 L430.06 292.03 L432.01 295.03 L433.97 297.93 L435.92 300.75 L437.87 303.48 L439.83 306.11 L441.78 308.64 L443.74 310.98 L445.69 313.17 L447.65 315.23 L449.60 317.16 L451.55 318.94 L453.51 320.61 L455.46 322.20 L457.42 323.72 L459.37 325.18 L461.33 326.62 L463.28 328.08 L465.23 329.51 L467.19 330.82 L469.14 332.07 L471.10 333.20 L473.05 334.17 L475.01 335.02 L476.96 335.81 L478.91 336.53 L480.87 337.21 L482.82 337.86 L484.78 338.48 L486.73 339.07 L488.69 339.61 L490.64 340.10 L492.59 340.57 L494.55 341.01 L496.50 341.43 L498.46 341.80 L500.41 342.11 L502.37 342.39 L504.32 342.65 L506.27 342.89 L508.23 343.10 L510.18 343.28 L512.14 343.43 L514.09 343.57 L516.05 343.69 L518.00 343.81 L519.95 343.91 L521.91 343.99 L523.86 344.06 L525.82 344.12 L527.77 344.17 L529.73 344.23 L531.68 344.27 L533.63 344.32 L535.59 344.35 L537.54 344.38 L539.50 344.39 L540.80 344.40" fill="none" stroke="#ff30ff" stroke-width="1.25" stroke-linejoin="round" stroke-linecap="butt" stroke-dasharray="4 4"/>
<path d="M312.50 350.17 L314.45 306.67 L316.41 286.06 L318.36 270.59 L320.32 264.45 L322.27 262.58 L324.23 264.00 L326.18 270.50 L328.13 279.97 L330.09 290.32 L332.04 302.51 L334.00 315.09 L335.95 325.37 L337.91 333.44 L339.86 341.43 L341.81 347.91 L343.77 353.61 L345.72 358.70 L347.68 362.08 L349.63 362.96 L351.59 361.52 L353.54 358.61 L355.49 354.55 L357.45 349.44 L359.40 343.91 L361.36 337.93 L363.31 331.53 L365.27 325.63 L367.22 320.43 L369.17 315.00 L371.13 309.19 L373.08 302.37 L375.04 295.75 L376.99 289.83 L378.95 284.69 L380.90 280.19 L382.85 276.32 L384.81 272.64 L386.76 268.77 L388.72 265.43 L390.67 263.16 L392.63 261.37 L394.58 260.14 L396.53 259.44 L398.49 258.99 L400.44 259.04 L402.40 259.60 L404.35 260.45 L406.31 261.42 L408.26 262.74 L410.21 264.44 L412.17 266.50 L414.12 269.25 L416.08 272.24 L418.03 274.97 L419.99 277.64 L421.94 280.33 L423.89 283.07 L425.85 285.84 L427.80 288.67 L429.76 291.63 L431.71 294.63 L433.67 297.53 L435.62 300.35 L437.57 303.08 L439.53 305.71 L441.48 308.24 L443.44 310.58 L445.39 312.77 L447.35 314.83 L449.30 316.76 L451.25 318.54 L453.21 320.21 L455.16 321.80 L457.12 323.32 L459.07 324.78 L461.03 326.22 L462.98 327.68 L464.93 329.11 L466.89 330.42 L468.84 331.67 L470.80 332.80 L472.75 333.77 L474.71 334.62 L476.66 335.41 L478.61 336.13 L480.57 336.81 L482.52 337.46 L484.48 338.08 L486.43 338.67 L488.39 339.21 L490.34 339.70 L492.29 340.17 L494.25 340.61 L496.20 341.03 L498.16 341.40 L500.11 341.71 L502.07 341.99 L504.02 342.25 L505.97 342.49 L507.93 342.70 L509.88 342.88 L511.84 343.03 L513.79 343.17 L515.75 343.29 L517.70 343.41 L519.65 343.51 L521.61 343.59 L523.56 343.66 L525.52 343.72 L527.47 343.77 L529.43 343.83 L531.38 343.87 L533.33 343.92 L535.29 343.95 L537.24 343.98 L539.20 343.99 L540.50 344.00" fill="none" stroke="#3030ff" stroke-width="1.25" stroke-linejoin="round" stroke-linecap="butt"/>
<text transform="translate(287.60,297.90) rotate(-90)" text-anchor="middle" font-size="9.9" fill="#262626">Relaxation spectrum [<tspan font-style="italic">Pa</tspan>]</text>
<text x="390.90" y="401.00" font-size="10.15" fill="#262626" textLength="84.60" lengthAdjust="spacingAndGlyphs">Relaxation time <tspan dx="3" font-style="italic">τ</tspan> [<tspan font-style="italic">s</tspan>]</text>
<text x="411.20" y="420.80" text-anchor="middle" font-size="12.5" font-weight="bold" fill="#111">(d)</text>
<rect x="464.30" y="223.50" width="71.20" height="30.00" fill="#fff" stroke="#9a9a9a" stroke-width="1"/>
<path d="M466.80 229.40 H486.90" stroke="#ff3838" stroke-width="1.3"/>
<text x="489.40" y="232.30" font-size="7.85" font-style="italic" fill="#222">real spectrum</text>
<path d="M466.80 238.70 H486.90" stroke="#ff30ff" stroke-width="1.3" stroke-dasharray="4 4"/>
<text x="489.40" y="241.60" font-size="7.85" fill="#222"><tspan font-style="italic">K</tspan> = 11</text>
<path d="M466.80 247.70 H486.90" stroke="#3030ff" stroke-width="1.3"/>
<text x="489.40" y="250.60" font-size="7.85" fill="#222"><tspan font-style="italic">K</tspan> = 12</text>
</svg></body></html>
